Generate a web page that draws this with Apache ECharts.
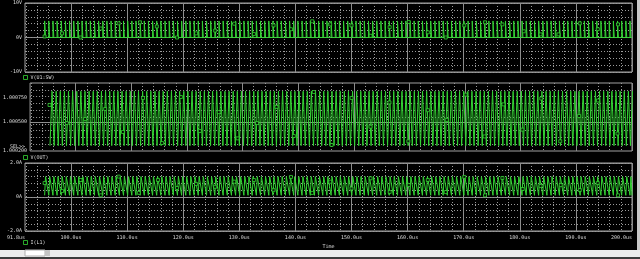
<!DOCTYPE html>
<html><head><meta charset="utf-8">
<script src="https://cdn.jsdelivr.net/npm/echarts@6/dist/echarts.min.js"></script>
<style>html,body{margin:0;padding:0;background:#000;}#c{width:640px;height:259px;}</style>
</head><body><div id="c"></div><script>
// switching instants (us) read from the V(U1:SW) trace
const switchTimes = [95.30,96.04,96.78,97.52,98.26,99.00,99.74,100.48,101.22,101.96,102.70,103.44,104.18,104.92,105.66,106.40,107.14,107.88,108.62,109.36,110.10,110.84,111.58,112.32,113.06,113.80,114.54,115.28,116.02,116.76,117.50,118.24,118.98,119.72,120.46,121.20,121.94,122.68,123.42,124.16,124.90,125.64,126.38,127.12,127.86,128.60,129.34,130.08,130.82,131.56,132.30,133.04,133.78,134.52,135.26,136.00,136.74,137.48,138.22,138.96,139.70,140.44,141.18,141.92,142.66,143.40,144.14,144.88,145.62,146.36,147.10,147.84,148.58,149.32,150.06,150.80,151.54,152.28,153.02,153.76,154.50,155.24,155.98,156.72,157.46,158.20,158.94,159.68,160.42,161.16,161.90,162.64,163.38,164.12,164.86,165.60,166.34,167.08,167.82,168.56,169.30,170.04,170.78,171.52,172.26,173.00,173.74,174.48,175.22,175.96,176.70,177.44,178.18,178.92,179.66,180.40,181.14,181.88,182.62,183.36,184.10,184.84,185.58,186.32,187.06,187.80,188.54,189.28,190.02,190.76,191.50,192.24,192.98,193.72,194.46,195.20,195.94,196.68,197.42,198.16,198.90,199.64];
const onTime = 0.16;          // us
const outPeakDelay = 0.45;    // us after switch-on
const tEnd = 200;
const swLevels = [0, 4.8];            // V(U1:SW) low / high
const outLevels = [1.000255, 1.000815]; // V(OUT) valley / peak
const ilLevels = [0.1, 1.2];          // I(L1) valley / peak

const swMarkers = [[95.3,0.3],[98.4,1.2],[101.7,0],[105.3,2.6],[108.5,4.1],[112.3,4.4],[115.3,3.2],[118.9,0],[122.3,1.2],[125.7,2.0],[129.1,4.0],[132.6,1.0],[136.1,3.5],[139.2,2.4],[143.0,4.7],[146.2,3.8],[150.0,3.5],[153.4,0.5],[156.8,3.0],[160.2,4.5],[163.6,1.5],[166.8,0],[170.1,3.5],[173.8,4.4],[176.9,3.8],[180.7,1.8],[183.7,0.9],[186.9,0.9],[190.7,4.1],[193.9,2.4],[197.5,3.8]];
const outMarkers = [[95.3,1.000674],[98.4,1.000488],[101.7,1.000529],[105.3,1.000632],[108.5,1.000396],[112.1,1.000746],[115.5,1.000282],[118.9,1.000756],[122.3,1.000406],[125.7,1.000600],[129.1,1.000330],[132.6,1.000488],[136.1,1.000653],[139.2,1.000354],[142.8,1.000807],[146.0,1.000262],[149.6,1.000746],[153.0,1.000450],[156.4,1.000700],[159.8,1.000300],[163.3,1.000620],[166.7,1.000520],[170.1,1.000780],[173.5,1.000350],[176.9,1.000680],[180.3,1.000420],[183.7,1.000740],[187.1,1.000300],[190.5,1.000560],[193.9,1.000720],[197.4,1.000380]];
const ilMarkers = [[95.3,0.82],[98.4,0.35],[101.7,1.0],[105.3,0.1],[108.5,1.2],[112.1,0.24],[115.5,1.0],[118.9,0.53],[122.3,0.76],[125.7,0.6],[129.1,0.9],[132.6,1.0],[136.1,0.4],[139.2,1.18],[143.0,0.24],[146.2,0.9],[150.0,0.5],[153.4,1.1],[156.8,0.3],[160.2,0.7],[163.6,1.0],[166.8,0.29],[170.1,1.18],[173.8,0.1],[176.9,1.12],[180.5,0.47],[183.7,0.65],[187.3,0.7],[190.7,0.41],[193.9,0.82],[197.5,0.1]];

const xMin = 91.8, xMax = 200;
const xMajorTicks = [100,110,120,130,140,150,160,170,180,190,200];
const xMinorTicks = [92,94,96,98,102,104,106,108,112,114,116,118,122,124,126,128,132,134,136,138,142,144,146,148,152,154,156,158,162,164,166,168,172,174,176,178,182,184,186,188,192,194,196,198];
const xLabelValues = [91.8,100,110,120,130,140,150,160,170,180,190,200];
const outLabelValues = [1.0002, 1.0005, 1.00075];
const outMajorTicks = [1.0005];
const outMinorTicks = [1.00027,1.00034,1.00041,1.00048,1.00055,1.00062,1.00069,1.00076,1.00083];
const seriesNames = ['V(U1:SW)', 'V(OUT)', 'I(L1)'];

// build step / ramp waveforms from the switching instants
const swData = [], outData = [], ilData = [];
switchTimes.forEach((t) => {
  swData.push([t, swLevels[0]], [t, swLevels[1]], [t + onTime, swLevels[1]], [t + onTime, swLevels[0]]);
  ilData.push([t, ilLevels[0]], [t + onTime, ilLevels[1]]);
  outData.push([t + onTime / 2, outLevels[0]], [t + outPeakDelay, outLevels[1]]);
});
swData.push([tEnd, swLevels[0]]);
ilData.push([tEnd, ilLevels[0]]);

const G = '#33d433';
const TXT = '#dcdcdc';
const FONT = 'DejaVu Sans Mono';
const solidGrid = {show: true, lineStyle: {color: '#8c8c8c', width: 1, type: 'solid'}};
const dotGrid = {show: true, lineStyle: {color: '#9a9a9a', width: 1, type: [1, 2]}};
const lab = {fontSize: 5, color: TXT, fontFamily: FONT};

const grids = [
  {left: 25, right: 8, top: 3, height: 69},
  {left: 25, right: 8, top: 83, height: 68},
  {left: 25, right: 8, top: 163, height: 68}
].map(g => Object.assign(g, {show: true, borderColor: '#a0a0a0', borderWidth: 1, backgroundColor: '#000', containLabel: false}));

const xAxes = [];
for (let i = 0; i < 3; i++) {
  xAxes.push({
    type: 'value', gridIndex: i, min: xMin, max: xMax,
    axisLine: {show: false},
    axisTick: {show: false, customValues: xMajorTicks},
    splitLine: solidGrid,
    axisLabel: Object.assign({show: i === 2, customValues: xLabelValues, margin: 4,
      alignMinLabel: 'right', alignMaxLabel: 'right',
      formatter: v => v.toFixed(1) + 'us'}, lab),
    name: i === 2 ? 'Time' : '', nameLocation: 'middle', nameGap: 13,
    nameTextStyle: lab
  });
  xAxes.push({
    type: 'value', gridIndex: i, min: xMin, max: xMax, position: 'top',
    axisLine: {show: false}, axisLabel: {show: false},
    axisTick: {show: false, customValues: xMinorTicks},
    splitLine: dotGrid
  });
}

const yAxes = [
  {type: 'value', gridIndex: 0, min: -10, max: 10, interval: 10,
   axisLine: {show: false}, axisTick: {show: false}, splitLine: solidGrid,
   axisLabel: Object.assign({margin: 3, formatter: v => v + 'V'}, lab)},
  {type: 'value', gridIndex: 0, min: -10, max: 10, interval: 2, position: 'right',
   axisLine: {show: false}, axisTick: {show: false}, axisLabel: {show: false}, splitLine: dotGrid},
  {type: 'value', gridIndex: 1, min: 1.0002, max: 1.0009,
   axisLine: {show: false}, axisTick: {show: false, customValues: outMajorTicks}, splitLine: solidGrid,
   axisLabel: Object.assign({margin: 3, customValues: outLabelValues, formatter: v => v.toFixed(6)}, lab)},
  {type: 'value', gridIndex: 1, min: 1.0002, max: 1.0009, position: 'right',
   axisLine: {show: false}, axisTick: {show: false, customValues: outMinorTicks}, axisLabel: {show: false}, splitLine: dotGrid},
  {type: 'value', gridIndex: 2, min: -2, max: 2, interval: 2,
   axisLine: {show: false}, axisTick: {show: false}, splitLine: solidGrid,
   axisLabel: Object.assign({margin: 3, formatter: v => v === 0 ? '0A' : v.toFixed(1) + 'A'}, lab)},
  {type: 'value', gridIndex: 2, min: -2, max: 2, interval: 0.4, position: 'right',
   axisLine: {show: false}, axisTick: {show: false}, axisLabel: {show: false}, splitLine: dotGrid}
];

const traces = [swData, outData, ilData];
const markers = [swMarkers, outMarkers, ilMarkers];
const series = [];
for (let i = 0; i < 3; i++) {
  series.push({
    type: 'scatter', name: seriesNames[i], xAxisIndex: 2 * i, yAxisIndex: 2 * i,
    data: markers[i], symbol: 'rect', symbolSize: 3, silent: true, z: 6,
    itemStyle: {color: '#000', borderColor: G, borderWidth: 1}
  });
  series.push({
    type: 'line', name: seriesNames[i], xAxisIndex: 2 * i, yAxisIndex: 2 * i,
    data: traces[i], showSymbol: false, symbol: 'none', sampling: null, silent: true, z: 5,
    lineStyle: {color: G, width: 1}, itemStyle: {color: G}
  });
}

const legendTops = [75, 155, 240];
const legends = seriesNames.map((n, i) => ({
  data: [{name: n, icon: 'rect', itemStyle: {color: '#000', borderColor: G, borderWidth: 1}}],
  left: 23, top: legendTops[i], padding: 0,
  itemWidth: 4, itemHeight: 4, itemGap: 4, selectedMode: false,
  textStyle: {fontSize: 5, color: TXT, fontFamily: FONT, padding: [0, 0, 0, -2]}
}));

const chart = echarts.init(document.getElementById('c'), null, {renderer: 'canvas'});
chart.setOption({
  backgroundColor: '#000',
  animation: false,
  grid: grids,
  xAxis: xAxes,
  yAxis: yAxes,
  legend: legends,
  series: series,
  graphic: [
    {type: 'text', left: 10, top: 144, style: {text: 'SEL>>', fill: TXT, font: '5px "DejaVu Sans Mono"'}},
    {type: 'rect', shape: {x: 637, y: 0, width: 3, height: 250}, style: {fill: '#c8c8c8'}},
    {type: 'rect', shape: {x: 0, y: 250, width: 640, height: 7}, style: {fill: '#ececec'}},
    {type: 'rect', shape: {x: 25, y: 250, width: 20, height: 6}, style: {fill: '#ffffff', stroke: '#b0b0b0', lineWidth: 1}},
    {type: 'rect', shape: {x: 45, y: 250, width: 5, height: 6}, style: {fill: '#c4c4c4'}},
    {type: 'rect', shape: {x: 0, y: 257, width: 640, height: 2}, style: {fill: '#3c3c3c'}}
  ]
});
</script></body></html>
